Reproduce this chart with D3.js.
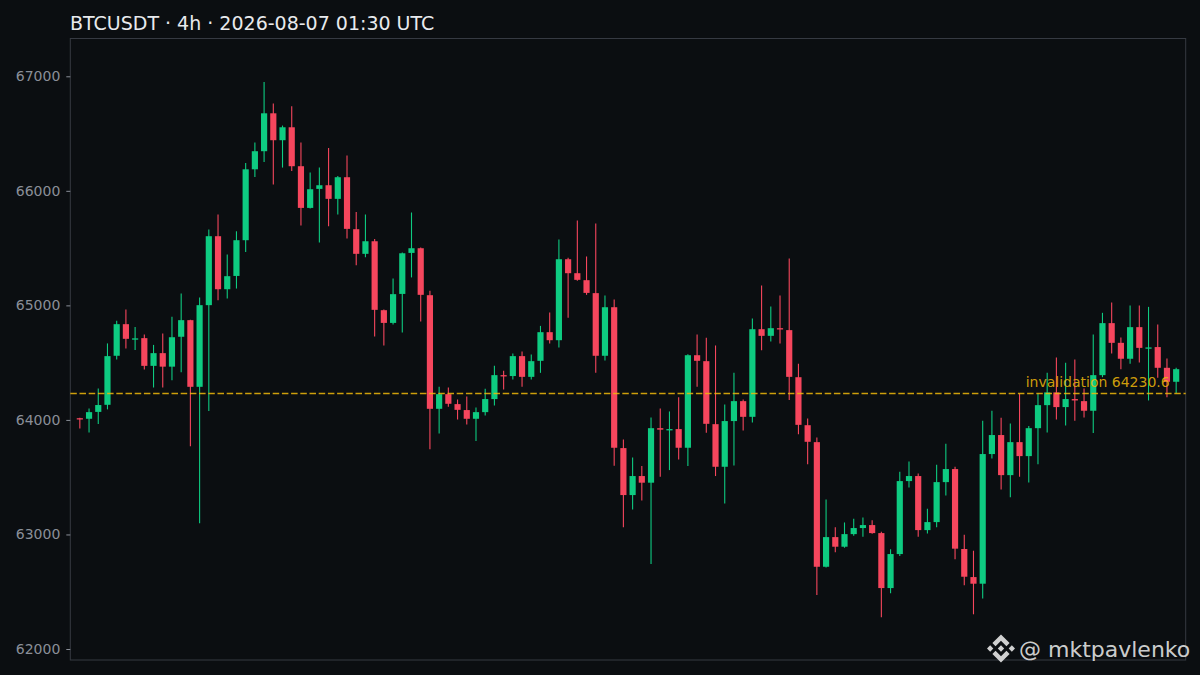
<!DOCTYPE html>
<html>
<head>
<meta charset="utf-8">
<script src="https://cdn.jsdelivr.net/npm/d3@7"></script>
<style>
  html, body { margin: 0; padding: 0; background: #0b0e11; }
  svg { display: block; font-family: "DejaVu Sans", sans-serif; }
</style>
</head>
<body>
<svg id="chart" width="1200" height="675"></svg>
<script>
// 4h candles, oldest first
var opens = [
  64015, 64010, 64070, 64132, 64560, 64836, 64705, 64714, 64472, 64583,
  64465, 64726, 64871, 64289, 65002, 65604, 65141, 65257, 65569, 66188,
  66346, 66677, 66442, 66555, 66215, 65851, 66017, 66049, 65930, 66119,
  65665, 65450, 65560, 64958, 64847, 65100, 65458, 65499, 65089, 64097,
  64225, 64138, 64086, 64010, 64068, 64182, 64391, 64383, 64557, 64376,
  64516, 64766, 64696, 65403, 65281, 65220, 65107, 64560, 64984, 63754,
  63344, 63510, 63452, 63928, 63912, 63920, 63757, 64565, 64513, 63963,
  63591, 63990, 64164, 64027, 64792, 64734, 64801, 64784, 64373, 63954,
  63806, 62718, 62977, 62893, 63003, 63056, 63082, 63012, 62532, 62829,
  63466, 63510, 63038, 63108, 63457, 63571, 62873, 62628, 62570, 63702,
  63868, 63518, 63806, 63684, 63928, 64129, 64240, 64112, 64182, 64164,
  64080, 64391, 64845, 64673, 64534, 64810, 64627, 64636, 64455, 64333
];
var highs = [
  64020, 64100, 64275, 64668, 64865, 64964, 64812, 64746, 64655, 64755,
  64900, 65104, 64875, 65069, 65662, 65793, 65445, 65647, 66243, 66421,
  66950, 66762, 66570, 66738, 66421, 66160, 66203, 66375, 66130, 66308,
  65816, 65793, 65580, 64964, 65235, 65461, 65811, 65505, 65127, 64289,
  64283, 64179, 64205, 64109, 64272, 64472, 64429, 64580, 64597, 64572,
  64821, 64938, 65575, 65415, 65740, 65427, 65715, 65087, 65052, 63830,
  63673, 63597, 64022, 64100, 64074, 64197, 64574, 64746, 64717, 64650,
  64135, 64411, 64179, 64886, 65174, 64991, 65087, 65409, 64490, 64013,
  63847, 63306, 63062, 63105, 63137, 63149, 63123, 63024, 62870, 63547,
  63638, 63533, 63224, 63609, 63792, 63591, 62998, 62858, 63992, 64080,
  64018, 63969, 64231, 63948, 64231, 64411, 64546, 64499, 64528, 64275,
  64746, 64935, 65025, 64720, 65000, 65000, 64987, 64834, 64537, 64455
];
var lows = [
  63925, 63890, 63965, 64092, 64528, 64624, 64610, 64441, 64283, 64283,
  64347, 64417, 63771, 63097, 64077, 65045, 65060, 65147, 65467, 66121,
  66252, 66055, 66203, 66174, 65697, 65846, 65549, 65691, 65793, 65584,
  65351, 65421, 64729, 64650, 64834, 64763, 65244, 64859, 63743, 63882,
  64114, 64004, 63960, 63815, 64039, 64127, 64266, 64353, 64289, 64353,
  64411, 64667, 64633, 64891, 65214, 65092, 64411, 64519, 63600, 63062,
  63219, 63297, 62742, 63504, 63562, 63655, 63597, 64289, 63888, 63510,
  63271, 63603, 63908, 63978, 64609, 64685, 64668, 64173, 63874, 63612,
  62471, 62712, 62844, 62884, 62989, 62980, 63006, 62277, 62486, 62812,
  63411, 62980, 63009, 63062, 63341, 62783, 62556, 62303, 62442, 63664,
  63393, 63324, 63504, 63454, 63612, 63891, 64004, 63952, 63993, 64022,
  63885, 64373, 64580, 64443, 64490, 64502, 64170, 64368, 64199, 64234
];
var closes = [
  64005, 64068, 64130, 64557, 64836, 64708, 64712, 64472, 64583, 64465,
  64722, 64871, 64289, 65002, 65604, 65141, 65255, 65569, 66188, 66346,
  66677, 66442, 66555, 66215, 65851, 66014, 66049, 65930, 66119, 65668,
  65450, 65560, 64961, 64847, 65098, 65455, 65499, 65092, 64097, 64225,
  64141, 64088, 64010, 64068, 64182, 64391, 64383, 64557, 64376, 64513,
  64766, 64696, 65403, 65281, 65223, 65109, 64560, 64984, 63757, 63344,
  63510, 63452, 63928, 63915, 63920, 63757, 64565, 64516, 63966, 63591,
  63990, 64164, 64027, 64792, 64734, 64801, 64795, 64376, 63957, 63809,
  62718, 62977, 62893, 63003, 63056, 63082, 63012, 62532, 62829, 63466,
  63510, 63038, 63108, 63457, 63571, 62876, 62631, 62570, 63702, 63868,
  63518, 63806, 63684, 63928, 64129, 64240, 64112, 64182, 64170, 64080,
  64391, 64845, 64673, 64534, 64810, 64629, 64633, 64455, 64333, 64443
];
var yTicks = [62000, 63000, 64000, 65000, 66000, 67000];
var invalidation = 64230.6;
var titleText = "BTCUSDT · 4h · 2026-08-07 01:30 UTC";
var handle = "@ mktpavlenko";

drawCandles();

function drawCandles() {
  var margin = {top: 38.5, right: 14.3, bottom: 15, left: 70.3},
      W = 1200, H = 675,
      width = W - margin.left - margin.right,
      height = H - margin.top - margin.bottom;

  var up = "#0ecb81", down = "#f6465d", gold = "#f0b90b";

  var svg = d3.select("#chart");

  svg.append("rect").attr("width", W).attr("height", H).attr("fill", "#0b0e11");

  var g = svg.append("g")
      .attr("transform", "translate(" + margin.left + "," + margin.top + ")");

  // one band per candle
  var idx = opens.map(function(d, i) { return i; });
  var x = d3.scaleBand().domain(idx).range([0, width])
      .paddingInner(0.33).paddingOuter(0.7);
  var y = d3.scaleLinear().domain([61904, 67330]).range([height, 0]);

  // frame
  g.append("rect")
      .attr("width", width).attr("height", height)
      .attr("fill", "none").attr("stroke", "#363a42").attr("stroke-width", 1);

  // y axis
  var yAxis = g.append("g")
      .call(d3.axisLeft(y).tickValues(yTicks).tickFormat(d3.format("d")).tickSize(4).tickPadding(6));
  yAxis.select(".domain").remove();
  yAxis.selectAll("line").attr("stroke", "#8a8f98");
  yAxis.selectAll("text")
      .attr("fill", "#8a8f98")
      .style("font-size", "14px")
      .style("font-family", "DejaVu Sans, sans-serif");

  // wicks
  g.selectAll(".wick")
      .data(idx)
    .enter().append("line")
      .attr("class", "wick")
      .attr("x1", function(i) { return x(i) + x.bandwidth() / 2; })
      .attr("x2", function(i) { return x(i) + x.bandwidth() / 2; })
      .attr("y1", function(i) { return y(highs[i]); })
      .attr("y2", function(i) { return y(lows[i]); })
      .attr("stroke", function(i) { return closes[i] >= opens[i] ? up : down; })
      .attr("stroke-width", 1.1);

  // bodies
  g.selectAll(".body")
      .data(idx)
    .enter().append("rect")
      .attr("class", "body")
      .attr("x", function(i) { return x(i); })
      .attr("width", x.bandwidth())
      .attr("y", function(i) { return y(Math.max(opens[i], closes[i])); })
      .attr("height", function(i) {
        return Math.max(1.3, Math.abs(y(opens[i]) - y(closes[i])));
      })
      .attr("fill", function(i) { return closes[i] >= opens[i] ? up : down; });

  // invalidation level
  g.append("line")
      .attr("x1", 0).attr("x2", width)
      .attr("y1", y(invalidation)).attr("y2", y(invalidation))
      .attr("stroke", gold).attr("stroke-opacity", 0.85)
      .attr("stroke-width", 1.7)
      .attr("stroke-dasharray", "6.5,2.7");

  g.append("text")
      .attr("x", width - 16)
      .attr("y", y(invalidation) - 6.5)
      .attr("text-anchor", "end")
      .attr("fill", gold).attr("fill-opacity", 0.85)
      .style("font-size", "14px")
      .text("invalidation " + invalidation.toFixed(1));

  // title
  svg.append("text")
      .attr("x", 70).attr("y", 29.5)
      .attr("fill", "#e8eaed")
      .style("font-size", "19px")
      .text(titleText);

  // watermark: binance mark + handle
  var mark = svg.append("g")
      .attr("transform", "translate(987,634.5) scale(" + (28 / 126.61) + ")")
      .attr("fill", "#e6e6e6").attr("fill-opacity", 0.9);
  mark.append("path").attr("d", "M38.73 53.2L63.3 28.63L87.89 53.22L102.19 38.92L63.3 0L24.42 38.88Z");
  mark.append("path").attr("d", "M0 63.31L14.3 49.01L28.6 63.31L14.3 77.61Z");
  mark.append("path").attr("d", "M48.99 63.3L63.3 48.99L77.61 63.3L63.3 77.61Z");
  mark.append("path").attr("d", "M98.01 63.31L112.31 49.01L126.61 63.31L112.31 77.61Z");
  mark.append("path").attr("d", "M87.89 73.41L63.3 98L38.72 73.42L24.42 87.7L63.3 126.61L102.19 87.72Z");

  svg.append("text")
      .attr("x", 1019).attr("y", 656.5)
      .attr("fill", "#e6e6e6").attr("fill-opacity", 0.9)
      .style("font-size", "22px")
      .text(handle);
}
</script>
</body>
</html>
